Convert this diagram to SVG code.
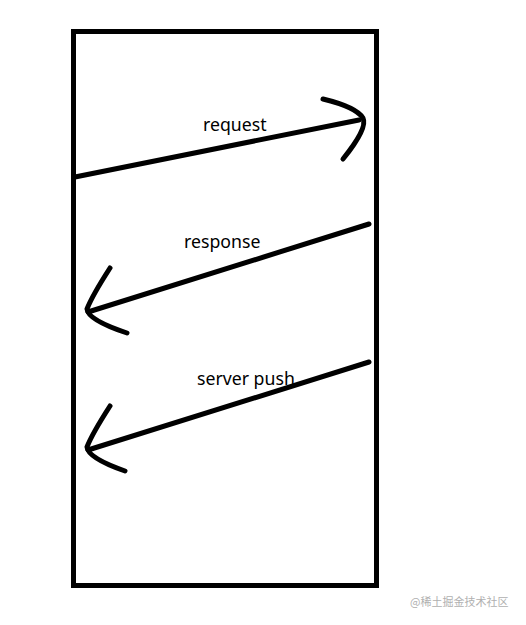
<svg xmlns="http://www.w3.org/2000/svg" width="526" height="625" viewBox="0 0 526 625">
<style>
.s{fill:none;stroke:#000;stroke-width:5;stroke-linecap:round;stroke-linejoin:round}
.t{font-family:"Noto Sans","Open Sans",sans-serif;font-size:17.7px;fill:#000}
.w{font-family:"Noto Sans CJK SC",sans-serif;font-size:11px;fill:#b0b0b0}
</style>
<rect x="0" y="0" width="526" height="625" fill="#fff"/>
<g id="box"><rect x="73.5" y="31.5" width="303" height="554" fill="none" stroke="#000" stroke-width="5"/></g>
<g id="connectors">
<path class="s" d="M75,177 L359,120"/>
<path class="s" d="M323,99 Q356,107 363,118 Q368,128 343,159"/>
<path class="s" d="M369,224 L88,312"/>
<path class="s" d="M110,268 Q92,296 87,309 Q88,320 127,333"/>
<path class="s" d="M369,362 L88,450"/>
<path class="s" d="M110,406 Q92,434 87,447 Q88,458 125,471"/>
</g>
<g id="labels">
<text class="t" x="203" y="131">request</text>
<text class="t" x="184" y="248">response</text>
<text class="t" x="197" y="385">server push</text>
</g>
<text class="w" x="410" y="606">@稀土掘金技术社区</text>
</svg>
